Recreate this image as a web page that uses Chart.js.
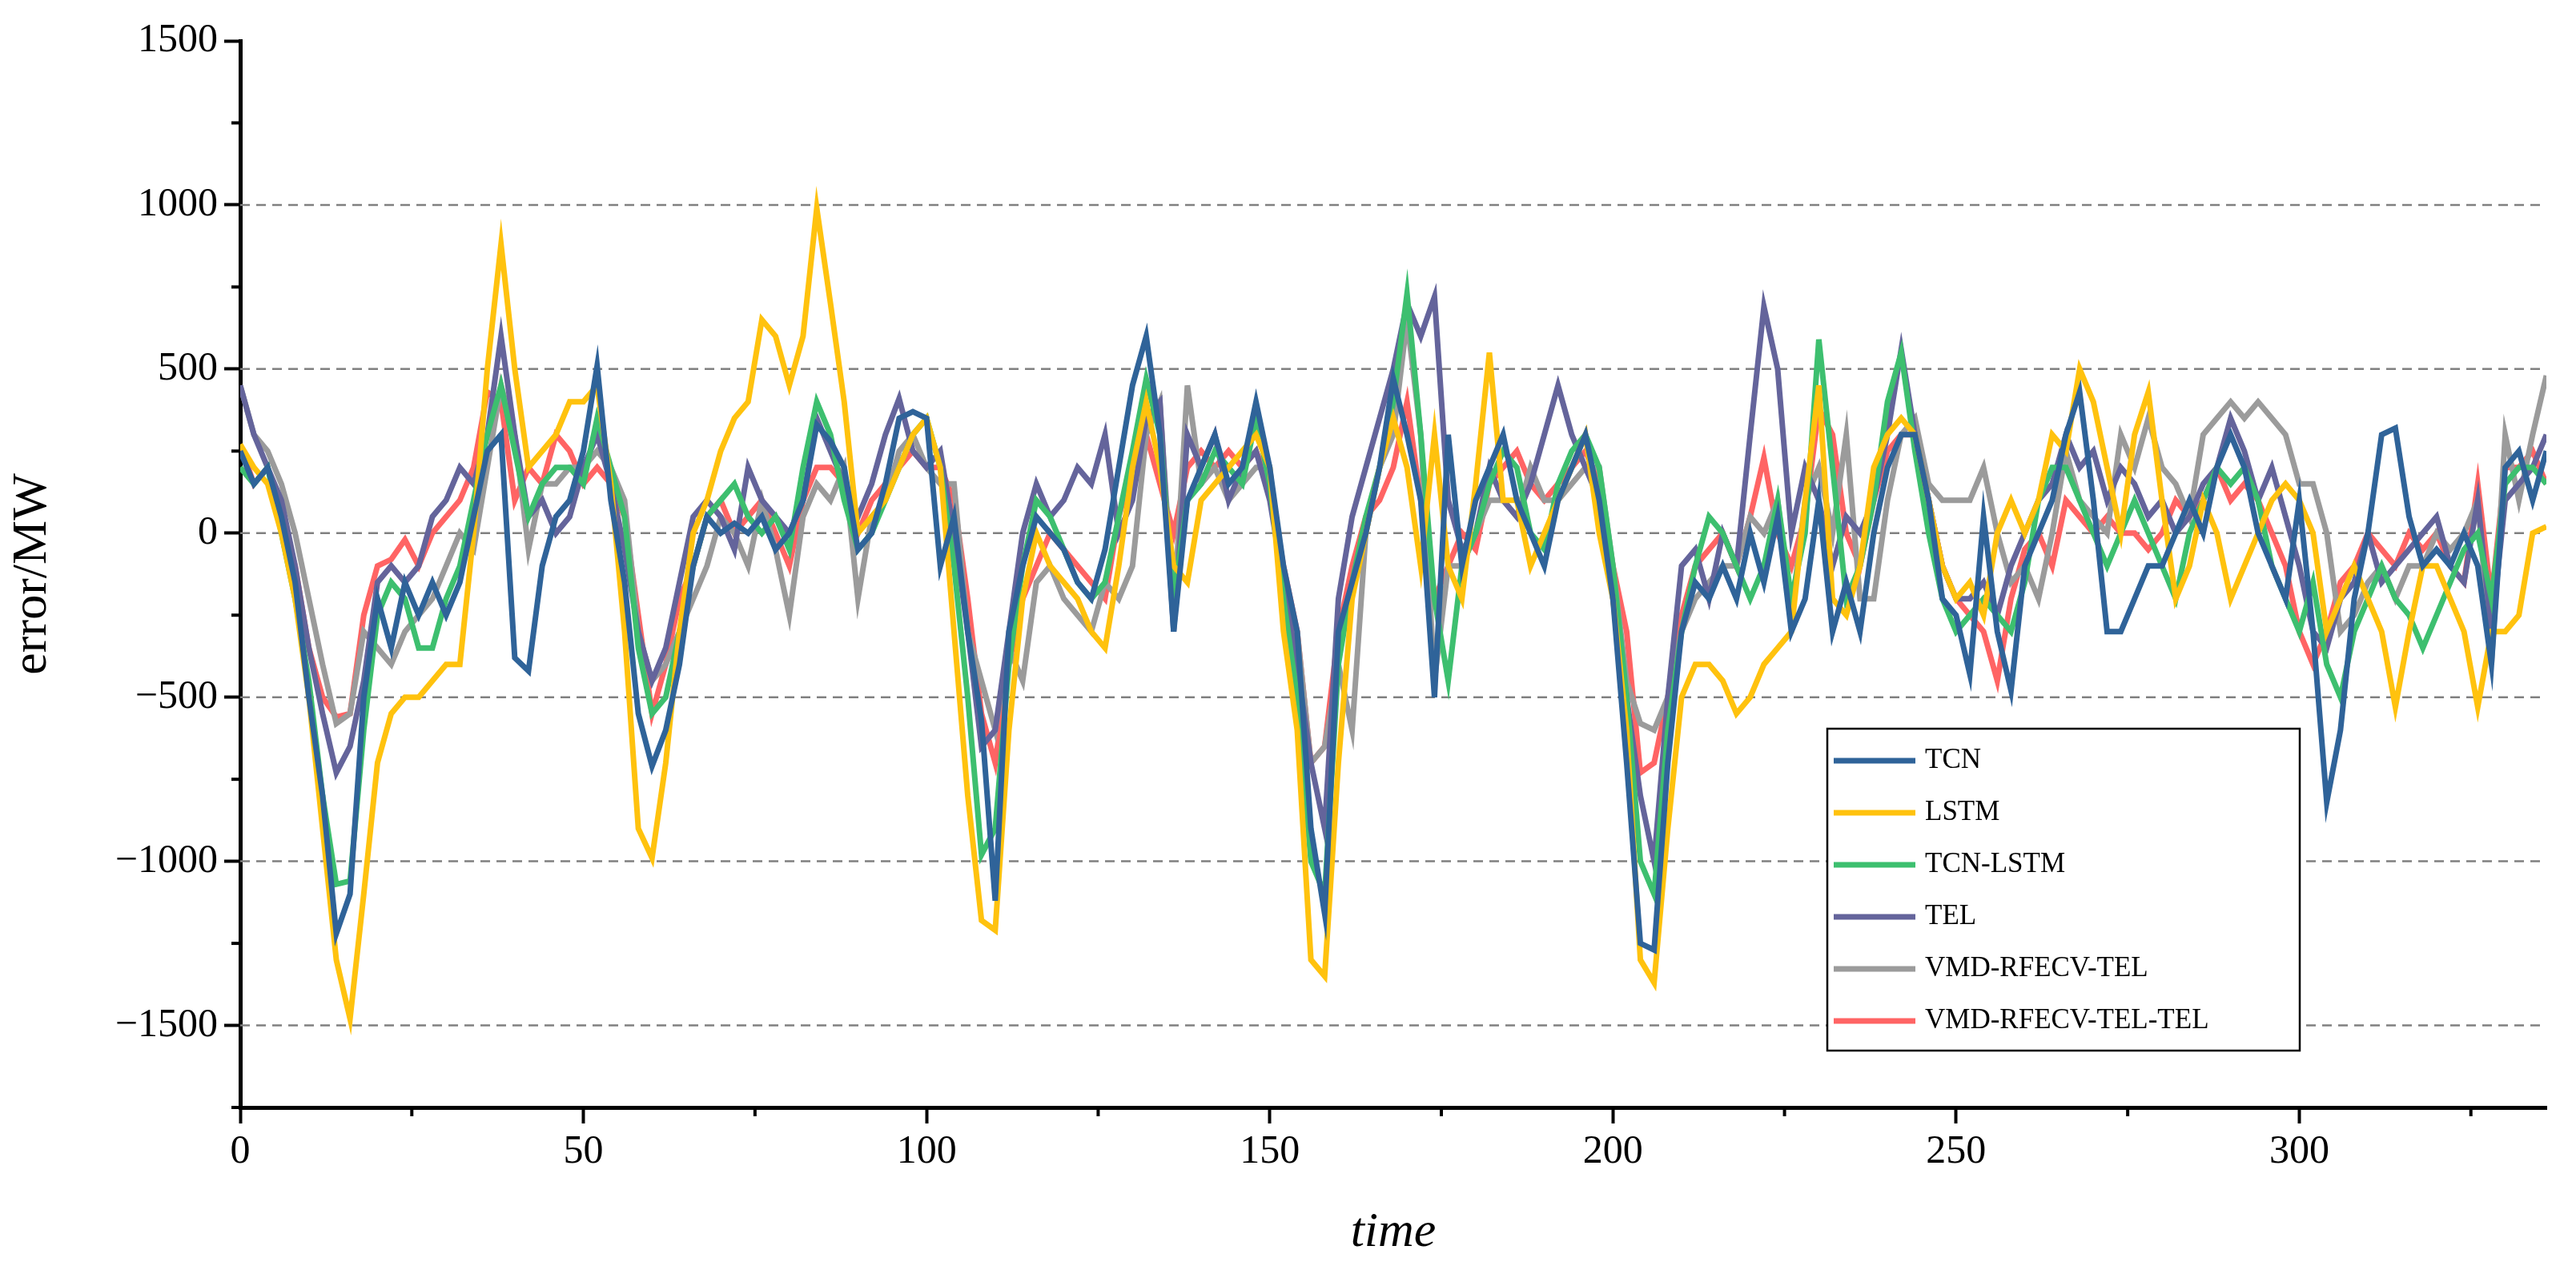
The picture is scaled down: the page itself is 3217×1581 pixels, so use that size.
<!DOCTYPE html>
<html><head><meta charset="utf-8">
<script src="https://cdn.jsdelivr.net/npm/chart.js@4/dist/chart.umd.min.js"></script>
<style>html,body{margin:0;padding:0;background:#fff}canvas{display:block}</style>
</head><body>
<canvas id="c" width="3217" height="1581"></canvas>
<script>
const timeSteps = [0,2,4,6,8,10,12,14,16,18,20,22,24,26,28,30,32,34,36,38,40,42,44,46,48,50,52,54,56,58,60,62,64,66,68,70,72,74,76,78,80,82,84,86,88,90,92,94,96,98,100,102,104,106,108,110,112,114,116,118,120,122,124,126,128,130,132,134,136,138,140,142,144,146,148,150,152,154,156,158,160,162,164,166,168,170,172,174,176,178,180,182,184,186,188,190,192,194,196,198,200,202,204,206,208,210,212,214,216,218,220,222,224,226,228,230,232,234,236,238,240,242,244,246,248,250,252,254,256,258,260,262,264,266,268,270,272,274,276,278,280,282,284,286,288,290,292,294,296,298,300,302,304,306,308,310,312,314,316,318,320,322,324,326,328,330,332,334,336];
const tcn = [250,150,200,50,-150,-500,-800,-1220,-1100,-500,-200,-350,-150,-250,-150,-250,-150,50,250,300,-380,-420,-100,50,100,250,510,100,-150,-550,-710,-600,-400,-100,50,0,30,0,50,-50,0,100,330,280,200,-50,0,150,350,370,350,-100,50,-300,-570,-1120,-300,-100,50,0,-50,-150,-200,-50,200,450,600,300,-300,100,200,300,150,200,400,200,-100,-300,-900,-1160,-300,-150,0,200,470,300,100,-500,300,-100,100,200,300,100,0,-100,100,200,300,100,-200,-700,-1250,-1270,-700,-300,-150,-200,-100,-200,0,-150,50,-300,-200,100,-300,-150,-300,0,200,300,300,100,-200,-250,-430,50,-300,-480,-100,0,100,300,430,100,-300,-300,-200,-100,-100,0,100,0,200,300,200,0,-100,-200,100,-300,-820,-600,-200,0,300,320,50,-100,-50,-100,0,-100,-400,200,250,100,250];
const lstm = [270,200,150,0,-200,-500,-900,-1300,-1480,-1100,-700,-550,-500,-500,-450,-400,-400,0,500,880,500,200,250,300,400,400,450,150,-300,-900,-990,-700,-300,0,100,250,350,400,650,600,450,600,990,700,400,0,50,100,200,300,350,200,-300,-800,-1180,-1210,-600,-200,0,-100,-150,-200,-300,-350,-100,200,400,200,-100,-150,100,150,200,250,300,200,-300,-600,-1300,-1350,-700,-200,0,200,350,200,-100,300,-100,-200,150,550,100,100,-100,0,100,200,300,0,-200,-600,-1300,-1370,-900,-500,-400,-400,-450,-550,-500,-400,-350,-300,100,450,-200,-250,-100,200,300,350,300,100,-100,-200,-150,-250,0,100,0,100,300,250,500,400,200,0,300,430,100,-200,-100,100,0,-200,-100,0,100,150,100,0,-300,-200,-100,-200,-300,-530,-300,-100,-100,-200,-300,-530,-300,-300,-250,0,20];
const tcnLstm = [200,150,200,0,-200,-450,-800,-1070,-1060,-600,-250,-150,-200,-350,-350,-200,-100,100,300,450,250,50,150,200,200,150,350,200,50,-350,-550,-500,-300,-100,50,100,150,50,0,50,-50,200,400,300,100,-50,0,100,200,300,350,200,-100,-500,-980,-900,-400,-100,100,50,-50,-150,-200,-150,50,250,470,300,-200,100,150,250,200,150,350,150,-200,-500,-1000,-1100,-400,-150,50,200,400,730,300,-200,-450,-100,0,150,250,200,0,-50,150,250,300,200,-100,-500,-1000,-1100,-600,-300,-100,50,0,-100,-200,-100,100,-200,0,590,200,-200,-100,100,400,550,250,0,-200,-300,-250,-200,-250,-300,-150,100,200,200,100,0,-100,0,100,0,-100,-200,0,100,200,150,200,100,-100,-200,-300,-150,-400,-500,-300,-200,-100,-200,-250,-350,-250,-150,-50,0,-200,150,200,200,150];
const tel = [450,300,200,100,-100,-350,-550,-730,-650,-450,-150,-100,-150,-100,50,100,200,150,300,600,300,50,100,0,50,200,300,150,-50,-300,-450,-350,-150,50,100,50,-50,200,100,50,0,100,350,250,150,50,150,300,410,250,200,250,0,-300,-650,-600,-300,0,150,50,100,200,150,300,0,100,350,400,-300,300,200,300,100,200,250,100,-150,-400,-700,-900,-200,50,200,350,500,700,600,720,100,-50,0,200,100,50,150,300,450,300,200,100,-200,-500,-800,-1000,-500,-100,-50,-200,0,-100,300,690,500,0,200,100,-100,50,0,100,300,560,300,100,-100,-200,-200,-150,-250,-100,0,100,150,300,200,250,100,200,150,50,100,0,50,150,200,350,250,100,200,50,-100,-300,-350,-200,-150,0,-150,-100,-50,0,50,-100,-150,100,-300,100,150,200,300];
const vmdTel = [450,300,250,150,0,-200,-400,-580,-550,-300,-350,-400,-300,-250,-200,-100,0,-50,200,450,300,-50,150,150,200,200,250,200,100,-300,-450,-400,-300,-200,-100,50,0,-100,100,-50,-250,50,150,100,200,-200,50,100,250,300,200,150,150,-300,-450,-600,-350,-450,-150,-100,-200,-250,-300,-150,-200,-100,300,400,-250,450,150,200,100,150,200,200,-200,-300,-700,-650,-400,-600,0,200,300,650,300,-450,-100,-100,0,100,100,50,200,100,100,150,200,200,-100,-450,-580,-600,-500,-300,-200,-150,-100,-100,50,0,100,-250,100,200,0,300,-200,-200,100,300,350,150,100,100,100,200,0,-150,-100,-200,0,250,100,50,0,300,200,350,200,150,50,300,350,400,350,400,350,300,150,150,0,-300,-250,-150,-100,-200,-100,-100,0,-50,0,100,-400,300,100,300,480];
const vmdTelTel = [270,150,200,50,-100,-350,-500,-560,-550,-250,-100,-80,-20,-100,0,50,100,200,430,400,100,200,150,300,250,150,200,150,50,-250,-550,-400,-200,-100,50,100,0,50,100,0,-100,100,200,200,150,0,100,150,200,250,200,200,100,-200,-550,-700,-400,-200,-100,0,-50,-100,-150,-200,50,200,300,150,0,200,250,200,250,200,250,150,-100,-300,-700,-650,-300,-100,50,100,200,400,100,-200,-100,0,-50,150,200,250,150,100,150,200,250,150,-100,-300,-730,-700,-500,-250,-100,-50,0,-100,50,230,0,-100,50,380,300,0,-100,100,250,300,300,100,-100,-200,-250,-300,-450,-200,-50,0,-100,100,50,0,50,0,0,-50,0,100,50,100,200,100,150,100,0,-100,-300,-400,-300,-150,-100,0,-50,-100,0,-50,0,-100,-150,150,-200,200,200,250,150];
const seriesNames = ['TCN','LSTM','TCN-LSTM','TEL','VMD-RFECV-TEL','VMD-RFECV-TEL-TEL'];
const seriesColors = ['#2f6399','#ffc20e','#3dbf6f','#64649b','#9b9b9b','#ff6464'];
const yTicks = [-1500,-1000,-500,0,500,1000,1500];
const xTicks = [0,50,100,150,200,250,300];

const allSeries=[tcn,lstm,tcnLstm,tel,vmdTel,vmdTelTel];
const FONT='"Liberation Serif", "DejaVu Serif", serif';

const overlay={id:'overlay',
 beforeDatasetsDraw(ch){
  const {ctx,chartArea:a,scales:{x,y}}=ch;
  ctx.save();ctx.strokeStyle='#808080';ctx.lineWidth=2.5;ctx.setLineDash([12,8]);
  [1000,500,0,-500,-1000,-1500].forEach(v=>{const p=y.getPixelForValue(v);ctx.beginPath();ctx.moveTo(a.left,p);ctx.lineTo(a.right,p);ctx.stroke();});
  ctx.restore();
 },
 afterDraw(ch){
  const {ctx,chartArea:a,scales:{x,y}}=ch;
  ctx.save();ctx.strokeStyle='#000';ctx.lineWidth=4;
  for(let v=25;v<336;v+=50){const p=x.getPixelForValue(v);ctx.beginPath();ctx.moveTo(p,a.bottom);ctx.lineTo(p,a.bottom+11);ctx.stroke();}
  for(let v=-1750;v<1500;v+=500){const p=y.getPixelForValue(v);ctx.beginPath();ctx.moveTo(a.left,p);ctx.lineTo(a.left-11,p);ctx.stroke();}
  const L=2282,T=910,W=590,H=402;
  ctx.lineWidth=2.5;ctx.strokeStyle='#000';ctx.fillStyle='#fff';
  ctx.fillRect(L,T,W,H);ctx.strokeRect(L,T,W,H);
  ctx.font='35px '+FONT;ctx.textBaseline='middle';
  seriesNames.forEach((n,i)=>{const yy=T+40+i*65;
   ctx.strokeStyle=seriesColors[i];ctx.lineWidth=7;ctx.beginPath();ctx.moveTo(L+8,yy);ctx.lineTo(L+110,yy);ctx.stroke();
   ctx.fillStyle='#000';ctx.fillText(n,L+122,yy);});
  ctx.restore();
 }};

new Chart(document.getElementById('c'),{
 type:'line',
 data:{labels:timeSteps,datasets:allSeries.map((d,i)=>({label:seriesNames[i],data:d.map((v,j)=>({x:timeSteps[j],y:v})),borderColor:seriesColors[i],borderWidth:7,pointRadius:0,tension:0,fill:false}))},
 options:{responsive:false,animation:false,devicePixelRatio:1,
  layout:{padding:{top:51,right:37,left:0,bottom:0}},
  plugins:{legend:{display:false},tooltip:{enabled:false}},
  scales:{
   x:{type:'linear',min:0,max:336,
    afterFit(s){s.height=198;},
    afterBuildTicks(s){s.ticks=xTicks.map(v=>({value:v}));},
    ticks:{font:{family:FONT,size:50},color:'#000',padding:6,maxRotation:0,callback:v=>String(v)},
    grid:{drawOnChartArea:false,tickLength:20,tickWidth:4,tickColor:'#000'},
    border:{color:'#000',width:5},
    title:{display:true,text:'time',font:{family:FONT,size:62,style:'italic'},color:'#000',padding:{top:0}}},
   y:{type:'linear',min:-1750,max:1500,
    afterFit(s){s.width=300;},
    afterBuildTicks(s){s.ticks=yTicks.map(v=>({value:v}));},
    ticks:{font:{family:FONT,size:50},color:'#000',padding:8,callback:v=>(v<0?'\u2212'+(-v):String(v))},
    grid:{drawOnChartArea:false,tickLength:20,tickWidth:4,tickColor:'#000'},
    border:{color:'#000',width:5},
    title:{display:true,text:'error/MW',font:{family:FONT,size:62},color:'#000',padding:{bottom:4}}}
  }},
 plugins:[overlay]});
</script>
</body></html>
